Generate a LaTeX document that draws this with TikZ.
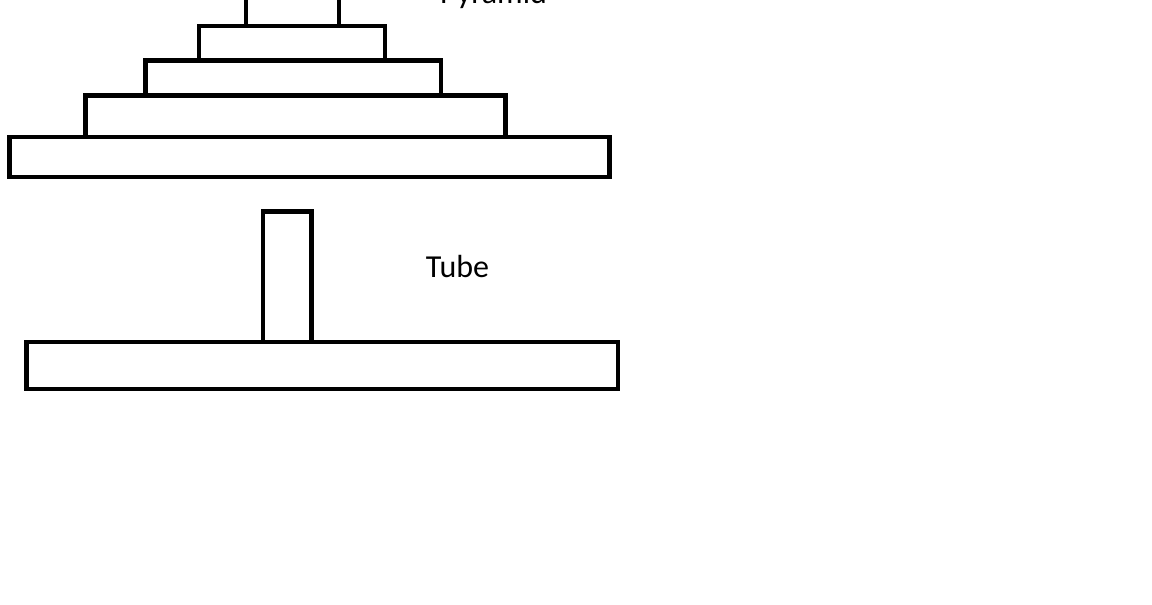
\documentclass[tikz,border=0pt]{standalone}
\usepackage{fontspec}
\setmainfont{Carlito}
\begin{document}
\begin{tikzpicture}[x=1pt, y=-1pt, line width=4.4pt]
\tikzset{label/.style={anchor=base, inner sep=0pt, font=\fontsize{32}{38}\selectfont}}
\useasboundingbox (0,0) rectangle (1152,605);
% pyramid layers
\foreach \xa/\xb/\ya/\yb in {
246/339/-20/26,
199/385/26/60.5,
145.5/441.2/60.5/95.5,
85.5/505.5/95.5/137.2,
9.5/609.5/137.2/177.2
}{
\draw (\xa,\ya) rectangle (\xb,\yb);
}
% tube
\draw (262.8,211.5) rectangle (311.5,342.2);
\draw (26.5,342.2) rectangle (617.8,388.8);
\node[label] (pyramid) at (493.5,3.5) {Pyramid};
\node[label] (tube) at (457.5,277.7) {Tube};
\end{tikzpicture}
\end{document}
